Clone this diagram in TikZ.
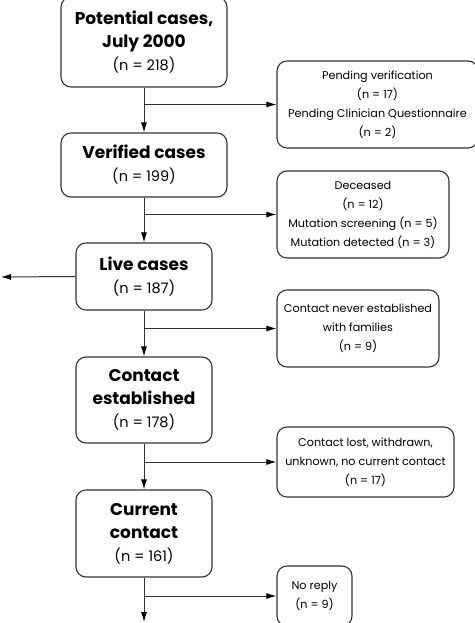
\documentclass[tikz,border=0pt]{standalone}
\usepackage{fontspec}
\setmainfont{Poppins}
\usetikzlibrary{arrows.meta}
\newcommand{\nline}[1]{{\fontsize{14.5}{23}\selectfont #1}}
\begin{document}
\begin{tikzpicture}[x=1pt,y=-1pt,
  line/.style={draw=black!80, line width=1pt},
  arr/.style={line, -{Latex[length=10pt,width=6pt,color=black]}},
  mainbox/.style={draw=black!80, line width=1.1pt, rounded corners=10pt, align=center,
    inner sep=0pt, font=\fontsize{17}{23}\selectfont},
  sidebox/.style={draw=black!80, line width=1.1pt, rounded corners=10pt, align=center,
    inner sep=0pt, font=\fontsize{11.2}{19}\selectfont}
]
\useasboundingbox (0,0) rectangle (474,623);
\node[mainbox, minimum width=166pt, minimum height=90pt] (b1) at (144,42)
  {{\bfseries Potential cases,}\\{\bfseries July 2000}\\\nline{(n = 218)}};
\node[mainbox, minimum width=166pt, minimum height=64pt] (b2) at (144,165)
  {{\bfseries Verified cases}\\\nline{(n = 199)}};
\node[mainbox, minimum width=136pt, minimum height=67pt] (b3) at (144,276.5)
  {{\bfseries Live cases}\\\nline{(n = 187)}};
\node[mainbox, minimum width=136pt, minimum height=86pt] (b4) at (144,400)
  {{\bfseries Contact}\\{\bfseries established}\\\nline{(n = 178)}};
\node[mainbox, minimum width=136pt, minimum height=87pt] (b5) at (144,533.5)
  {{\bfseries Current}\\{\bfseries contact}\\\nline{(n = 161)}};

\node[sidebox, minimum width=201pt, minimum height=87pt] (s1) at (377.5,104.5)
  {Pending verification\\(n = 17)\\Pending Clinician Questionnaire\\(n = 2)};
\node[sidebox, minimum width=172pt, minimum height=87pt] (s2) at (363,214.5)
  {Deceased\\(n = 12)\\Mutation screening (n = 5)\\Mutation detected (n = 3)};
\node[sidebox, minimum width=162pt, minimum height=77pt] (s3) at (358,328.5)
  {Contact never established\\with families\\(n = 9)};
\node[sidebox, minimum width=177pt, minimum height=70pt] (s4) at (365.5,462)
  {Contact lost, withdrawn,\\unknown, no current contact\\(n = 17)};
\node[sidebox, minimum width=75pt, minimum height=60pt] (s5) at (314.5,596)
  {No reply\\(n = 9)};

\coordinate (left) at (1,277);
\coordinate (bottom) at (144,622);

\draw[arr] (b1) -- (b2);
\draw[arr] (b2) -- (b3);
\draw[arr] (b3) -- (b4);
\draw[arr] (b4) -- (b5);
\draw[arr] (b5) -- (bottom);
\draw[arr] (b1.south |- s1.west) -- (s1.west);
\draw[arr] (b2.south |- s2.west) -- (s2.west);
\draw[arr] (b3.south |- s3.west) -- (s3.west);
\draw[arr] (b4.south |- s4.west) -- (s4.west);
\draw[arr] (b5.south |- s5.west) -- (s5.west);
\draw[arr] (b3.west) -- (left);
\end{tikzpicture}
\end{document}
